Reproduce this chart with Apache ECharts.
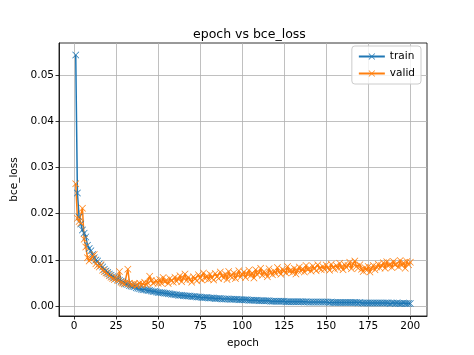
<!DOCTYPE html>
<html>
<head>
<meta charset="utf-8">
<script src="https://cdn.jsdelivr.net/npm/echarts@6/dist/echarts.min.js"></script>
<style>html,body{margin:0;padding:0;background:#fff}#c{width:474px;height:355px}</style>
</head>
<body>
<div id="c"></div>
<script>
const xTicks = [0, 25, 50, 75, 100, 125, 150, 175, 200];
const yTicks = [0, 0.01, 0.02, 0.03, 0.04, 0.05];

const trainLoss = [
.0543,.0245,.0193,.0178,.0165,.0158,.0150,.0132,.0125,.0120,
.0112,.0105,.0100,.0098,.0092,.0088,.0085,.0080,.0076,.0073,
.0070,.0067,.0064,.0062,.0060,.0058,.0056,.0054,.0052,.0050,
.0048,.0047,.0045,.0044,.0043,.0042,.0040,.0039,.0038,.0037,
.0036,.0036,.0035,.0034,.0034,.0033,.0032,.0032,.0031,.0030,
.0030,.0029,.0029,.0028,.0028,.0027,.0027,.0026,.0026,.0025,
.0025,.0024,.0024,.0024,.0023,.0023,.0022,.0022,.0022,.0021,
.0021,.0021,.0020,.0020,.0020,.0019,.0019,.0019,.0019,.0018,
.0018,.0018,.0018,.0017,.0017,.0017,.0017,.0016,.0016,.0016,
.0016,.0016,.0015,.0015,.0015,.0015,.0015,.0014,.0014,.0014,
.0014,.0014,.0014,.0013,.0013,.0013,.0013,.0013,.0013,.0012,
.0012,.0012,.0012,.0012,.0012,.0012,.0011,.0011,.0011,.0011,
.0011,.0011,.0011,.0011,.0011,.0010,.0010,.0010,.0010,.0010,
.0010,.0010,.0010,.0010,.0010,.0010,.0009,.0010,.0009,.0009,
.0009,.0009,.0009,.0009,.0009,.0009,.0009,.0009,.0009,.0009,
.0009,.0008,.0009,.0008,.0008,.0008,.0008,.0008,.0008,.0008,
.0008,.0008,.0008,.0008,.0008,.0008,.0008,.0008,.0007,.0008,
.0007,.0007,.0007,.0007,.0007,.0007,.0007,.0007,.0007,.0007,
.0007,.0007,.0007,.0007,.0007,.0007,.0007,.0006,.0007,.0007,
.0006,.0007,.0006,.0006,.0006,.0007,.0006,.0006,.0006,.0006
];

const validLoss = [
.0265,.0190,.0183,.0180,.0212,.0145,.0128,.0105,.0098,.0102,
.0108,.0112,.0092,.0088,.0085,.0090,.0078,.0075,.0072,.0070,
.0066,.0063,.0060,.0058,.0062,.0055,.0075,.0052,.0050,.0048,
.0052,.0080,.0050,.0047,.0046,.0049,.0045,.0047,.0050,.0046,
.0048,.0052,.0047,.0050,.0065,.0055,.0050,.0052,.0055,.0050,
.0058,.0050,.0062,.0053,.0057,.0049,.0060,.0055,.0052,.0063,
.0054,.0059,.0066,.0053,.0061,.0070,.0056,.0063,.0058,.0052,
.0064,.0059,.0055,.0068,.0061,.0057,.0072,.0060,.0066,.0058,
.0069,.0061,.0057,.0071,.0064,.0060,.0074,.0066,.0061,.0070,
.0058,.0075,.0065,.0062,.0072,.0060,.0068,.0077,.0063,.0069,
.0074,.0062,.0070,.0078,.0066,.0072,.0061,.0079,.0068,.0073,
.0082,.0067,.0075,.0070,.0064,.0081,.0073,.0068,.0076,.0071,
.0084,.0074,.0069,.0080,.0077,.0072,.0086,.0075,.0079,.0073,
.0082,.0070,.0078,.0085,.0076,.0081,.0074,.0088,.0079,.0083,
.0076,.0087,.0081,.0077,.0090,.0082,.0079,.0086,.0080,.0089,
.0083,.0078,.0091,.0084,.0080,.0088,.0082,.0093,.0085,.0079,
.0090,.0084,.0088,.0095,.0081,.0092,.0098,.0086,.0082,.0090,
.0080,.0075,.0084,.0078,.0086,.0074,.0083,.0088,.0079,.0085,
.0091,.0083,.0088,.0094,.0082,.0096,.0087,.0092,.0084,.0097,
.0089,.0093,.0085,.0099,.0088,.0094,.0082,.0097,.0090,.0095
];

const epochs = trainLoss.map((_, i) => i + 1);
const pairs = arr => arr.map((v, i) => [epochs[i], v]);

const X_SYMBOL = 'path://M0,0.7 L0.7,0 L5,4.3 L9.3,0 L10,0.7 L5.7,5 L10,9.3 L9.3,10 L5,5.7 L0.7,10 L0,9.3 L4.3,5 Z';
const FONT = 'DejaVu Sans';
const FS = 10.5;

const chart = echarts.init(document.getElementById('c'), null, {renderer: 'canvas'});
chart.setOption({
  animation: false,
  backgroundColor: '#fff',
  textStyle: {fontFamily: FONT},
  title: {
    text: 'epoch vs bce_loss', left: 188, top: 23,
    textStyle: {fontFamily: FONT, fontSize: 12.5, fontWeight: 'normal', color: '#000'}
  },
  legend: {
    orient: 'vertical', right: 53, top: 46,
    backgroundColor: 'rgba(255,255,255,0.8)', borderColor: '#cccccc', borderWidth: 1, borderRadius: 3,
    padding: [5, 6, 5, 6], itemGap: 6, itemWidth: 26, itemHeight: 8,
    textStyle: {fontFamily: FONT, fontSize: FS, color: '#000'},
    data: ['train', 'valid']
  },
  grid: {left: 59, right: 47, top: 43, bottom: 39, show: true, borderColor: '#000', borderWidth: 0.8,
    containLabel: false, outerBoundsMode: 'none'},
  xAxis: {
    type: 'value', min: -8.95, max: 209.95,
    name: 'epoch', nameLocation: 'middle', nameGap: 22,
    nameTextStyle: {fontFamily: FONT, fontSize: FS, color: '#000'},
    axisLine: {show: true, onZero: false, lineStyle: {color: '#000', width: 0.8}},
    axisTick: {show: true, length: 3.5, lineStyle: {color: '#000', width: 0.8}, customValues: xTicks},
    axisLabel: {fontFamily: FONT, fontSize: FS, color: '#000', margin: 5, customValues: xTicks},
    splitLine: {show: true, lineStyle: {color: '#b0b0b0', width: 0.8}}
  },
  yAxis: {
    type: 'value', min: -0.0021, max: 0.0569,
    name: 'bce_loss', nameLocation: 'middle', nameGap: 34, nameRotate: 90,
    nameTextStyle: {fontFamily: FONT, fontSize: FS, color: '#000'},
    axisLine: {show: true, onZero: false, lineStyle: {color: '#000', width: 0.8}},
    axisTick: {show: true, length: 3.5, lineStyle: {color: '#000', width: 0.8}, customValues: yTicks},
    axisLabel: {fontFamily: FONT, fontSize: FS, color: '#000', margin: 5, customValues: yTicks,
      formatter: v => v.toFixed(2)},
    splitLine: {show: true, lineStyle: {color: '#b0b0b0', width: 0.8}}
  },
  series: [
    {name: 'train', type: 'line', data: pairs(trainLoss), color: '#1f77b4',
     symbol: X_SYMBOL, symbolSize: 7, showAllSymbol: true,
     lineStyle: {width: 1.5}, itemStyle: {color: '#1f77b4'}},
    {name: 'valid', type: 'line', data: pairs(validLoss), color: '#ff7f0e',
     symbol: X_SYMBOL, symbolSize: 7, showAllSymbol: true,
     lineStyle: {width: 1.5}, itemStyle: {color: '#ff7f0e'}}
  ]
});
</script>
</body>
</html>
